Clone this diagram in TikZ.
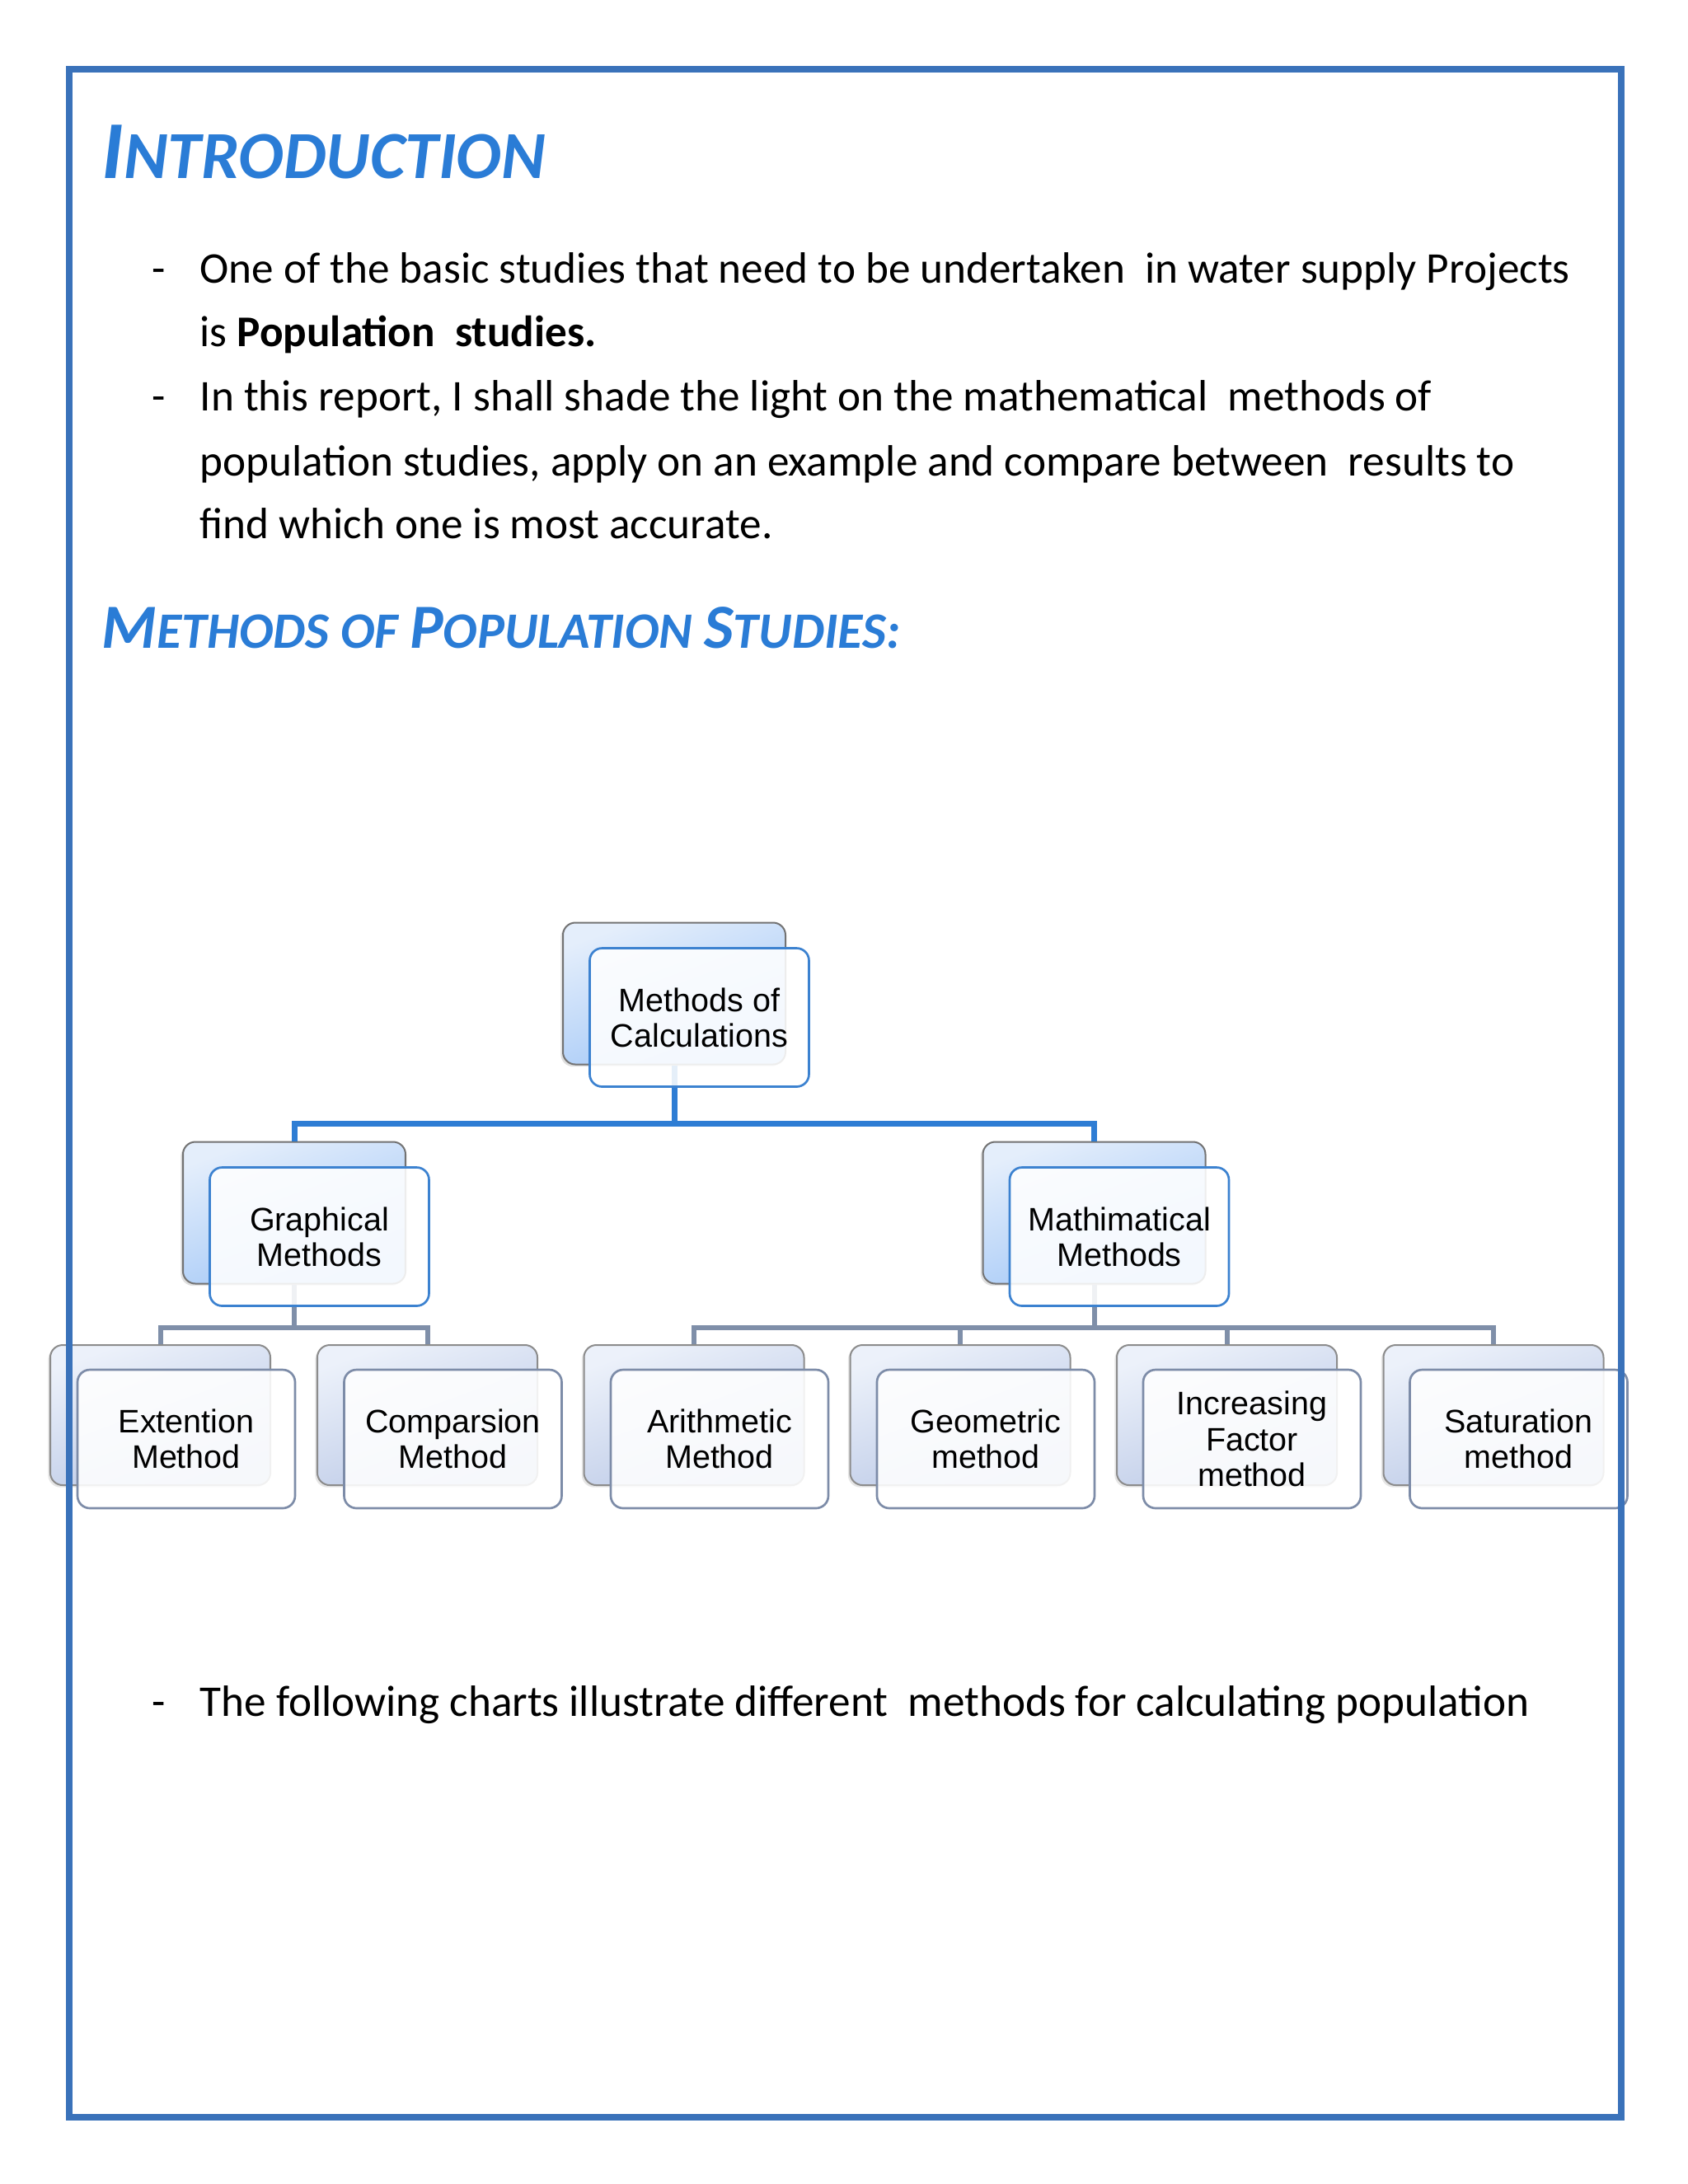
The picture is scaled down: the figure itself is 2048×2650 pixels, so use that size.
\documentclass[tikz,border=0pt]{standalone}
\usepackage{fontspec}
\setmainfont{Carlito}
\newfontfamily\arialf{Liberation Sans}
\usetikzlibrary{shadows}
\definecolor{frameblue}{RGB}{58,114,186}
\definecolor{headblue}{RGB}{42,124,214}
\definecolor{lineblue}{RGB}{46,125,212}
\definecolor{lineslate}{RGB}{127,143,169}
\definecolor{frontblue}{RGB}{60,130,208}
\definecolor{frontslate}{RGB}{125,140,168}
\definecolor{backtopA}{RGB}{228,238,251}
\definecolor{backbotA}{RGB}{160,198,247}
\definecolor{backtopB}{RGB}{236,241,250}
\definecolor{backbotB}{RGB}{186,200,230}
\newcommand\pxu{0.29883pt}
\begin{document}
\begin{tikzpicture}[x=0.29883pt,y=-0.29883pt,
  bodytext/.style={anchor=base west, inner sep=0pt, font=\fontsize{15.9}{19}\selectfont},
  headtext/.style={anchor=base west, inner sep=0pt, text=headblue, font=\bfseries\itshape},
  backA/.style={rectangle, rounded corners=4.5pt, draw=black!55, line width=0.6pt,
    top color=backtopA, bottom color=backbotA, shading angle=20,
    minimum width=270*\pxu, minimum height=172*\pxu, inner sep=0pt,
    drop shadow={shadow xshift=-0.8pt, shadow yshift=-0.8pt, opacity=0.25}},
  backB/.style={rectangle, rounded corners=4.5pt, draw=black!45, line width=0.6pt,
    top color=backtopB, bottom color=backbotB, shading angle=20,
    minimum width=267*\pxu, minimum height=170*\pxu, inner sep=0pt,
    drop shadow={shadow xshift=-0.8pt, shadow yshift=-0.8pt, opacity=0.2}},
  frontA/.style={rectangle, rounded corners=4.5pt, draw=frontblue, line width=0.8pt,
    fill=white, fill opacity=0.88, text opacity=1,
    minimum width=266*\pxu, minimum height=168*\pxu, inner sep=0pt, align=center,
    font=\arialf\fontsize{11.8}{12.9}\selectfont},
  frontB/.style={frontA, draw=frontslate, minimum width=264*\pxu},
  blueconn/.style={draw=lineblue, line width=7*\pxu},
  slateconn/.style={draw=lineslate, line width=6*\pxu}
]
\useasboundingbox (0,0) rectangle (2048,2650);
\fill[white] (0,0) rectangle (2048,2650);

% headings
\node[headtext] (h1) at (123,216) {{\fontsize{29.8}{32}\selectfont I}{\fontsize{24.4}{27}\selectfont NTRODUCTION}};
\node[headtext] (h2) at (123,786) {{\fontsize{22.8}{25}\selectfont M}{\fontsize{18.5}{21}\selectfont ETHODS OF }{\fontsize{22.8}{25}\selectfont P}{\fontsize{18.5}{21}\selectfont OPULATION }{\fontsize{22.8}{25}\selectfont S}{\fontsize{18.5}{21}\selectfont TUDIES:}};

% body
\node[bodytext] (d1) at (184,343) {-};
\node[bodytext] (t1) at (242,343) {One of the basic studies that need to be undertaken\ \ in water supply Projects};
\node[bodytext] (t2) at (242,420) {is \textbf{Population\ \ studies.}};
\node[bodytext] (d2) at (184,498) {-};
\node[bodytext] (t3) at (242,498) {In this report, I shall shade the light on the mathematical\ \ methods of};
\node[bodytext] (t4) at (242,577) {population studies, apply on an example and compare between\ \ results to};
\node[bodytext] (t5) at (242,653) {find which one is most accurate.};
\node[bodytext] (d3) at (184,2082) {-};
\node[bodytext] (t6) at (242,2082) {The following charts illustrate different\ \ methods for calculating population};

% chart back boxes
\node[backA] (topB) at (818,1205.5) {};
\node[backA] (graphB) at (357,1471.5) {};
\node[backA] (mathB) at (1327.5,1471.5) {};
\node[backB] (b1) at (194.5,1717) {};
\node[backB] (b2) at (518.5,1717) {};
\node[backB] (b3) at (842,1717) {};
\node[backB] (b4) at (1165,1717) {};
\node[backB] (b5) at (1488.5,1717) {};
\node[backB] (b6) at (1812,1717) {};

% connectors
\draw[blueconn] (topB.south) -- ++(0,71) -| (graphB.north);
\draw[blueconn] (topB.south) -- ++(0,71) -| (mathB.north);
\draw[slateconn] (graphB.south) -- ++(0,52) -| (b1.north);
\draw[slateconn] (graphB.south) -- ++(0,52) -| (b2.north);
\draw[slateconn] (mathB.south) -- ++(0,52) -| (b3.north);
\draw[slateconn] (mathB.south) -- ++(0,52) -| (b4.north);
\draw[slateconn] (mathB.south) -- ++(0,52) -| (b5.north);
\draw[slateconn] (mathB.south) -- ++(0,52) -| (b6.north);

% front boxes
\node[frontA] (topF) at (848.5,1234.5) {Methods of\\Calculations};
\node[frontA] (graphF) at (387.5,1500.5) {Graphical\\Methods};
\node[frontA] (mathF) at (1358,1500.5) {Mathimatical\\Methods};
\node[frontB] (f1) at (226,1746) {Extention\\Method};
\node[frontB] (f2) at (549.5,1746) {Comparsion\\Method};
\node[frontB] (f3) at (873,1746) {Arithmetic\\Method};
\node[frontB] (f4) at (1196,1746) {Geometric\\method};
\node[frontB] (f5) at (1519,1746) {Increasing\\Factor\\method};
\node[frontB] (f6) at (1842.5,1746) {Saturation\\method};

% page border
\draw[frameblue, line width=8*\pxu] (83.5,83.5) rectangle (1967,2569);
\end{tikzpicture}
\end{document}
